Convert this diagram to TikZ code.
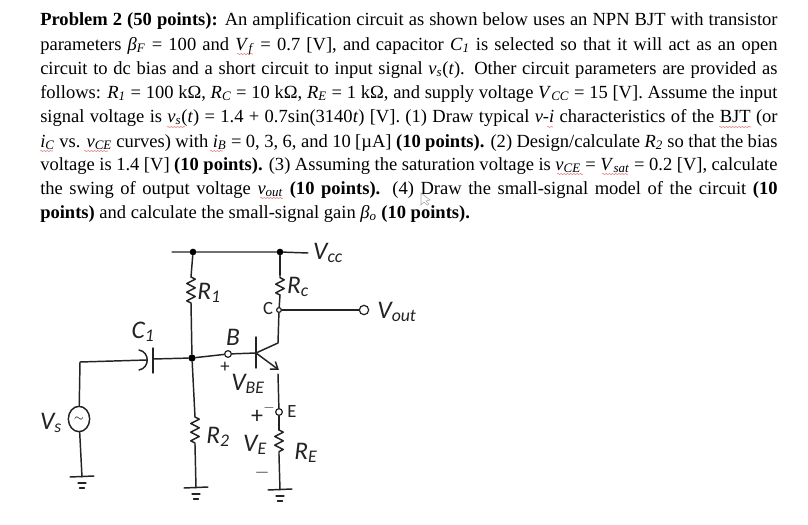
\documentclass[tikz,border=0pt]{standalone}
\usepackage{fontspec}
\setmainfont{Liberation Serif}
\newfontfamily\handfont{Carlito}
\usetikzlibrary{arrows.meta,decorations.pathmorphing,shapes.geometric}
\newcommand{\sbs}[1]{\textsubscript{\textit{#1}}}
\newcommand{\hsb}[1]{\textsubscript{#1}}
\definecolor{inkcol}{RGB}{35,35,35}
\definecolor{squigcol}{RGB}{225,130,130}
\tikzset{textline/.style={anchor=base west,inner sep=0pt,text=black,font=\fontsize{13.9}{15}\selectfont}}
\tikzset{wire/.style={draw=inkcol,line width=1.1pt,line cap=round,line join=round}}
\tikzset{res/.style={wire,decorate,decoration={zigzag,amplitude=3.2pt,segment length=6.5pt}}}
\tikzset{dotnode/.style={circle,fill=black,inner sep=0pt,minimum size=5.5pt}}
\tikzset{term/.style={circle,draw=inkcol,line width=.9pt,fill=white,inner sep=0pt,minimum size=#1}}
\tikzset{hand/.style={inner sep=0pt,text=inkcol,font=\handfont\itshape\fontsize{19}{19}\selectfont}}
\tikzset{handsm/.style={inner sep=0pt,text=inkcol,font=\handfont\fontsize{14}{14}\selectfont}}
\tikzset{squig/.style={draw=squigcol,line width=.4pt,decorate,decoration={snake,amplitude=.5pt,segment length=2.4pt}}}
\tikzset{gnd/.pic={
\draw [wire] (-12,0) -- (12,-1);
\draw [wire,line width=.8pt] (-4,6) -- (4,6);
\draw [wire,line width=.8pt] (-2.5,11) -- (2.5,11);
}}

\begin{document}
\begin{tikzpicture}[x=.75pt,y=-.75pt]
\useasboundingbox (0,0) rectangle (808,525);
% problem text
\node [textline] (line1) at (40,25) {\makebox[553pt][s]{\textbf{Problem 2 (50 points):} An amplification circuit as shown below uses an NPN BJT with transistor}};
\node [textline] (line2) at (40,50) {\makebox[553pt][s]{parameters \textit{β}\sbs{F} = 100 and \textit{V}\sbs{f} = 0.7 [V], and capacitor \textit{C}\sbs{1} is selected so that it will act as an open}};
\node [textline] (line3) at (40,74) {\makebox[553pt][s]{circuit to dc bias and a short circuit to input signal \textit{v}\sbs{s}(\textit{t}). Other circuit parameters are provided as}};
\node [textline] (line4) at (40,98) {\makebox[553pt][s]{follows: \textit{R}\sbs{1} = 100 kΩ, \textit{R}\sbs{C} = 10 kΩ, \textit{R}\sbs{E} = 1 kΩ, and supply voltage \textit{V}\sbs{CC} = 15 [V]. Assume the input}};
\node [textline] (line5) at (40,122) {\makebox[553pt][s]{signal voltage is \textit{v}\sbs{s}(\textit{t}) = 1.4 + 0.7sin(3140\textit{t}) [V]. (1) Draw typical \textit{v-i} characteristics of the BJT (or}};
\node [textline] (line6) at (40,147) {\makebox[553pt][s]{\textit{i}\sbs{C} vs. \textit{v}\sbs{CE} curves) with \textit{i}\sbs{B} = 0, 3, 6, and 10 [µA] \textbf{(10 points).} (2) Design/calculate \textit{R}\sbs{2} so that the bias}};
\node [textline] (line7) at (40,170) {\makebox[553pt][s]{voltage is 1.4 [V] \textbf{(10 points).} (3) Assuming the saturation voltage is \textit{v}\sbs{CE} = \textit{V}\sbs{sat} = 0.2 [V], calculate}};
\node [textline] (line8) at (40,194) {\makebox[553pt][s]{the swing of output voltage \textit{v}\sbs{out} \textbf{(10 points).} (4) Draw the small-signal model of the circuit \textbf{(10}}};
\node [textline] (line9) at (40,218) {\textbf{points)} and calculate the small-signal gain \textit{β}\sbs{o} \textbf{(10 points).}};
% spell check marks
\foreach \xa/\xb/\ya in {237/253/54,167/185/127,547/553/127,719/751/127,40/53/151,84/108/151,210/223/151,557/583/174,602/628/174,260/283/198}
  \draw [squig] (\xa,\ya) -- (\xb,\ya);
% cursor
\draw [draw=gray!70,fill=white,line width=.4pt] (421,193) -- (421,205) -- (424,202) -- (427,205) -- (429,204) -- (426,201) -- (430,200) -- cycle;
% rail
\coordinate (railL) at (172,252);
\node [dotnode,minimum size=5pt] (railA) at (193,252) {};
\node [dotnode,minimum size=5pt] (railB) at (280,252) {};
\coordinate (railR) at (308,253);
\draw [wire] (railL) -- (railA) -- (railB) -- (railR);
\node [hand] (vcc) at (328,253) {V\hsb{cc}};
% R1
\coordinate (r1t) at (191,277);
\coordinate (r1b) at (191,303);
\node [dotnode] (jn) at (192,358) {};
\draw [wire] (railA) -- (r1t);
\draw [res] (r1t) -- (r1b);
\draw [wire] (r1b) -- (jn);
\node [hand] (r1lab) at (209,293) {R\hsb{1}};
% C1 and source
\coordinate (cpl) at (153,359);
\coordinate (cpa) at (153,348);
\coordinate (cpb) at (153,373);
\coordinate (cql) at (147,360);
\coordinate (cqa) at (139,350);
\coordinate (cqb) at (139,370);
\coordinate (corner) at (80,362);
\node [ellipse,draw=inkcol,line width=1.1pt,minimum width=16pt,minimum height=19pt,inner sep=0pt] (vsrc) at (79,419) {\small$\sim$};
\coordinate (g1) at (82,477);
\draw [wire] (cpa) -- (cpb);
\draw [wire] (jn) -- (cpl);
\draw [wire] (cqa) .. controls (150,352) and (150,368) .. (cqb);
\draw [wire] (cql) -- (corner) -- (vsrc);
\draw [wire] (vsrc) -- (g1);
\pic at (g1) {gnd};
\node [hand] (c1lab) at (143,332) {C\hsb{1}};
\node [hand] (vslab) at (51,423) {V\hsb{s}};
% R2
\coordinate (r2t) at (195,417);
\coordinate (r2b) at (195,445);
\coordinate (g2) at (196,488);
\draw [wire] (jn) -- (r2t);
\draw [res] (r2t) -- (r2b);
\draw [wire] (r2b) -- (g2);
\pic at (g2) {gnd};
\node [hand] (r2lab) at (218,437) {R\hsb{2}};
% base and collector
\node [term=5pt] (bterm) at (228,354) {};
\coordinate (bjt) at (256,353);
\coordinate (bara) at (256,337);
\coordinate (barb) at (256,368);
\coordinate (cbend) at (278,343);
\node [term=3.5pt] (cnode) at (279,310) {};
\coordinate (rct) at (280,275);
\coordinate (rcb) at (280,295);
\node [term=7pt] (outterm) at (364,310) {};
\draw [wire] (jn) -- (bterm);
\draw [wire] (bterm) -- (bjt);
\draw [wire] (bara) -- (barb);
\draw [wire] (bjt) -- (cbend) -- (cnode);
\draw [wire] (cnode) -- (rcb);
\draw [res] (rcb) -- (rct);
\draw [wire] (rct) -- (railB);
\draw [wire] (cnode) -- (outterm);
\node [hand] (blab) at (233,337) {B};
\node [handsm] (bplus) at (225,367) {+};
\node [handsm] (clab) at (268,309) {C};
\node [hand] (rclab) at (298,287) {R\hsb{c}};
\node [hand] (voutlab) at (397,312) {V\hsb{out}};
% emitter
\coordinate (earrow) at (279,370);
\coordinate (ewire) at (278,374);
\node [term=5pt] (eterm) at (279,412) {};
\coordinate (ret) at (279,430);
\coordinate (reb) at (279,455);
\coordinate (g3) at (280,490);
\draw [wire,-{Straight Barb[length=5pt,width=7pt]}] (bjt) -- (earrow);
\draw [wire] (ewire) -- (eterm);
\draw [wire] (eterm) -- (ret);
\draw [res] (ret) -- (reb);
\draw [wire] (reb) -- (g3);
\pic at (g3) {gnd};
\node [hand] (vbelab) at (248,384) {V\hsb{BE}};
\node [handsm,font=\handfont\fontsize{11}{11}\selectfont] (eminus) at (269,408) {$-$};
\node [handsm,font=\handfont\fontsize{18}{18}\selectfont] (eplus) at (257,417) {+};
\node [handsm] (elab) at (292,412) {E};
\node [hand] (velab) at (255,445) {V\hsb{E}};
\node [hand] (relab) at (306,453) {R\hsb{E}};
\node [handsm] (gminus) at (262,473) {$-$};
\end{tikzpicture}
\end{document}
